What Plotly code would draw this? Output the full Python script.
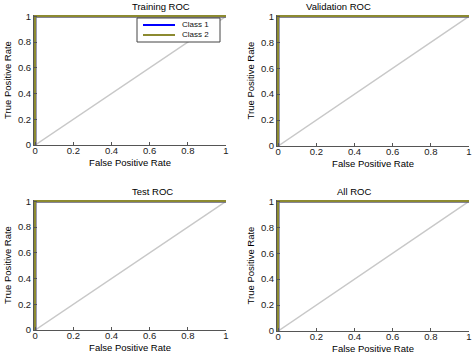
import plotly.graph_objects as go

panel_titles = ["Training ROC", "Validation ROC", "Test ROC", "All ROC"]
class_names = ["Class 1", "Class 2"]
class_colors = ["#0000ff", "#8c8a30"]
# ROC curve points (FPR, TPR) per panel per class
roc_fpr = {
    "Training ROC": [[0, 0, 1], [0, 0, 1]],
    "Validation ROC": [[0, 0, 1], [0, 0, 1]],
    "Test ROC": [[0, 0, 1], [0, 0, 1]],
    "All ROC": [[0, 0, 1], [0, 0, 1]],
}
roc_tpr = {
    "Training ROC": [[0, 1, 1], [0, 1, 1]],
    "Validation ROC": [[0, 1, 1], [0, 1, 1]],
    "Test ROC": [[0, 1, 1], [0, 1, 1]],
    "All ROC": [[0, 1, 1], [0, 1, 1]],
}
diag_x = [0, 1]
diag_y = [0, 1]
tick_vals = [0, 0.2, 0.4, 0.6, 0.8, 1]
tick_text = ["0", "0.2", "0.4", "0.6", "0.8", "1"]

W, H = 474, 357
# pixel boxes: (x0, x1, ytop, ybottom)
boxes = [(34, 226, 15, 145), (277, 469, 15, 146), (34, 226, 200, 330), (277, 469, 200, 331)]

fig = go.Figure()
FONT = "Liberation Sans, Arial, sans-serif"

for i, title in enumerate(panel_titles):
    n = "" if i == 0 else str(i + 1)
    xa, ya = "x" + n, "y" + n
    fig.add_trace(go.Scatter(x=diag_x, y=diag_y, mode="lines",
                             line=dict(color="#c8c8c8", width=1.5),
                             showlegend=False, hoverinfo="skip", xaxis=xa, yaxis=ya))
    for k in range(2):
        fig.add_trace(go.Scatter(x=roc_fpr[title][k], y=roc_tpr[title][k], mode="lines",
                                 line=dict(color=class_colors[k], width=2.4),
                                 name=class_names[k], showlegend=False,
                                 xaxis=xa, yaxis=ya))
    x0, x1, yt, yb = boxes[i]
    axcommon = dict(showgrid=False, zeroline=False, showline=True, linecolor="#555555",
                    linewidth=1, ticks="inside", ticklen=3, tickcolor="#555555",
                    tickvals=tick_vals, ticktext=tick_text, mirror=False, automargin=False,
                    tickfont=dict(size=9.5, color="#1a1a1a", family=FONT))
    fig.layout["xaxis" + n] = dict(
        domain=[x0 / W, x1 / W], anchor=ya, range=[-0.006, 1.0],
        ticklabelstandoff=-3,
        title=dict(text="False Positive Rate", font=dict(size=9.5, color="#000000", family=FONT), standoff=3),
        **axcommon)
    fig.layout["yaxis" + n] = dict(
        domain=[1 - yb / H, 1 - yt / H], anchor=xa, range=[0, 1.01],
        title=dict(text="True Positive Rate", font=dict(size=9.5, color="#000000", family=FONT), standoff=4),
        **axcommon)
    fig.add_annotation(x=(x0 + x1) / 2 / W, y=1 - (yt - 1) / H, xref="paper", yref="paper",
                       text=title, showarrow=False, yanchor="bottom",
                       font=dict(size=9.5, color="#000000", family=FONT))

# legend drawn in the first panel (paper coordinates)
lx0, lx1, ly0, ly1 = 137, 220, 18, 42
fig.add_shape(type="rect", xref="paper", yref="paper",
              x0=lx0 / W, x1=lx1 / W, y0=1 - ly1 / H, y1=1 - ly0 / H,
              line=dict(color="#444444", width=1), fillcolor="white", layer="above")
for k, (name, col) in enumerate(zip(class_names, class_colors)):
    yy = 25 + k * 10
    fig.add_shape(type="line", xref="paper", yref="paper",
                  x0=143 / W, x1=175 / W, y0=1 - yy / H, y1=1 - yy / H,
                  line=dict(color=col, width=2), layer="above")
    fig.add_annotation(x=180 / W, y=1 - yy / H, xref="paper", yref="paper",
                       text=name, showarrow=False, xanchor="left", yanchor="middle",
                       font=dict(size=8, color="#111111", family=FONT))

fig.update_layout(
    width=W, height=H, margin=dict(l=0, r=0, t=0, b=0),
    paper_bgcolor="white", plot_bgcolor="white", showlegend=False,
)
fig.write_html("out.html", config={"displayModeBar": False},
               post_script="document.body.style.margin='0';document.body.style.overflow='hidden';")
